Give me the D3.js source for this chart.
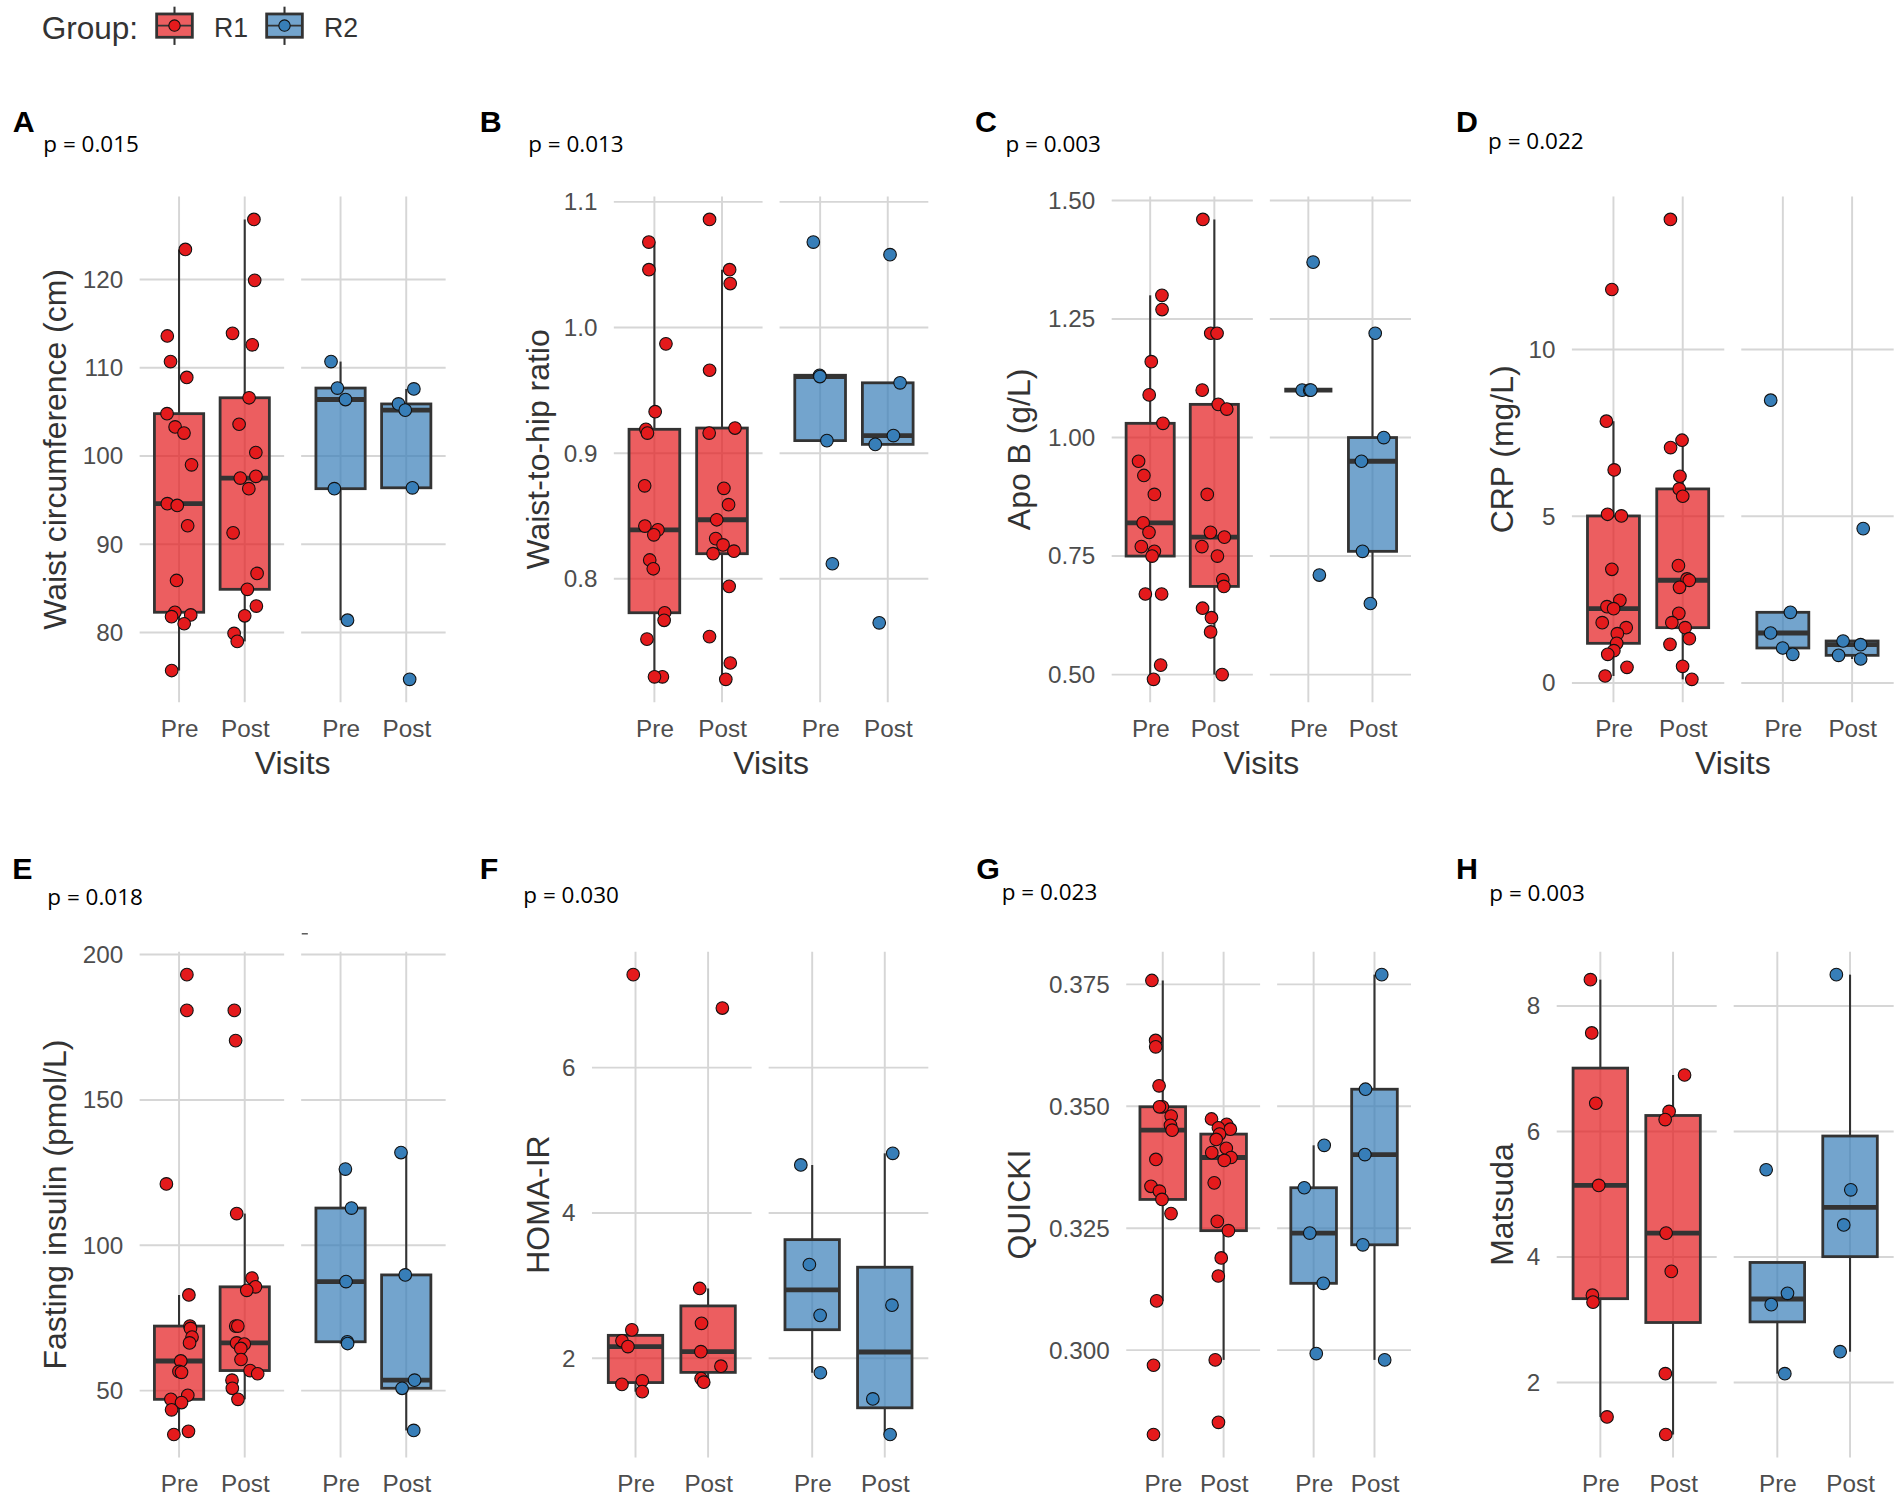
<!DOCTYPE html>
<html><head><meta charset="utf-8">
<script src="https://cdn.jsdelivr.net/npm/d3@7"></script>
<style>body{margin:0;background:#fff}</style>
</head><body><svg id="c"></svg>
<script>
// ---------------- DATA ----------------
const visits = ["Pre", "Post"];
const groups = ["R1", "R2"];
const panelLetters = ["A", "B", "C", "D", "E", "F", "G", "H"];
const pLabels = ["p = 0.015", "p = 0.013", "p = 0.003", "p = 0.022", "p = 0.018", "p = 0.030", "p = 0.023", "p = 0.003"];
const yTitles = ["Waist circumference (cm)", "Waist-to-hip ratio", "Apo B (g/L)", "CRP (mg/L)",
                 "Fasting insulin (pmol/L)", "HOMA-IR", "QUICKI", "Matsuda"];

// A: waist circumference
const waistR1Pre  = [123.4,113.6,110.7,108.9,104.8,103.3,102.6,99.0,94.6,94.4,92.1,85.9,82.3,82.0,81.8,81.0,75.7];
const waistR1Post = [126.8,119.9,113.9,112.6,106.6,103.6,100.4,97.7,97.5,96.3,91.3,86.7,84.9,83.0,81.9,79.9,79.0];
const waistR2Pre  = [110.7,107.7,106.4,96.3,81.4];
const waistR2Post = [107.6,105.9,105.2,96.4,74.7];
const waistTicks  = [80, 90, 100, 110, 120];
const waistTickLabels = ["80", "90", "100", "110", "120"];
// B: waist-to-hip ratio
const whrR1Pre  = [1.068,1.046,0.987,0.933,0.919,0.916,0.874,0.842,0.839,0.835,0.815,0.808,0.773,0.767,0.752,0.722,0.722];
const whrR1Post = [1.086,1.046,1.035,0.966,0.920,0.916,0.872,0.859,0.847,0.832,0.827,0.822,0.820,0.794,0.754,0.733,0.720];
const whrR2Pre  = [1.068,0.962,0.961,0.910,0.812];
const whrR2Post = [1.058,0.956,0.914,0.907,0.765];
const whrTicks  = [0.8, 0.9, 1.0, 1.1];
const whrTickLabels = ["0.8", "0.9", "1.0", "1.1"];
// C: Apo B
const apoR1Pre  = [1.30,1.27,1.16,1.09,1.03,0.95,0.92,0.88,0.82,0.80,0.77,0.76,0.75,0.67,0.67,0.52,0.49];
const apoR1Post = [1.46,1.22,1.22,1.10,1.07,1.06,0.88,0.80,0.79,0.77,0.75,0.70,0.686,0.64,0.62,0.59,0.50];
const apoR2Pre  = [1.37,1.10,1.10,1.10,0.71];
const apoR2Post = [1.22,1.00,0.95,0.76,0.65];
const apoTicks  = [0.5, 0.75, 1.0, 1.25, 1.5];
const apoTickLabels = ["0.50", "0.75", "1.00", "1.25", "1.50"];
// D: CRP
const crpR1Pre  = [11.8,7.85,6.39,5.06,5.01,3.41,2.48,2.29,2.23,1.81,1.66,1.48,1.19,0.97,0.86,0.47,0.21];
const crpR1Post = [13.9,7.28,7.06,6.20,5.82,5.60,3.52,3.12,3.08,2.87,2.09,1.81,1.66,1.33,1.16,0.50,0.11];
const crpR2Pre  = [8.48,2.12,1.50,1.05,0.86];
const crpR2Post = [4.63,1.26,1.15,0.83,0.72];
const crpTicks  = [0, 5, 10];
const crpTickLabels = ["0", "5", "10"];
// E: fasting insulin
const insR1Pre  = [193.1,180.8,121.1,82.9,72.2,71.4,68.4,66.4,60.2,56.6,56.3,48.4,47.0,45.9,43.4,36.0,34.9];
const insR1Post = [180.8,170.4,110.9,88.7,85.7,84.5,72.2,72.2,66.4,66.0,64.5,60.7,56.9,55.8,53.6,50.8,47.0];
const insR2Pre  = [126.2,112.8,87.5,66.8,66.2];
const insR2Post = [131.9,89.8,53.6,50.8,36.3];
const insTicks  = [50, 100, 150, 200];
const insTickLabels = ["50", "100", "150", "200"];
// F: HOMA-IR
const homaR1Pre  = [7.28,2.39,2.24,2.16,1.69,1.64,1.54];
const homaR1Post = [6.82,2.96,2.48,2.09,1.89,1.72,1.67];
const homaR2Pre  = [4.66,3.29,2.59,1.80];
const homaR2Post = [4.82,2.73,1.44,0.95];
const homaTicks  = [2, 4, 6];
const homaTickLabels = ["2", "4", "6"];
// G: QUICKI
const quickiR1Pre  = [0.3758,0.3635,0.3622,0.3542,0.3499,0.3499,0.3480,0.3461,0.3451,0.3391,0.3336,0.3326,0.3309,0.3280,0.3101,0.2969,0.2827];
const quickiR1Post = [0.3474,0.3463,0.3456,0.3453,0.3443,0.3432,0.3414,0.3405,0.3395,0.3389,0.3343,0.3264,0.3245,0.3189,0.3152,0.2980,0.2852];
const quickiR2Pre  = [0.3420,0.3333,0.3240,0.3137,0.2993];
const quickiR2Post = [0.3770,0.3535,0.3401,0.3216,0.2980];
const quickiTicks  = [0.300, 0.325, 0.350, 0.375];
const quickiTickLabels = ["0.300", "0.325", "0.350", "0.375"];
// H: Matsuda
const matsR1Pre  = [8.42,7.57,6.45,5.14,3.39,3.28,1.45];
const matsR1Post = [6.90,6.32,6.19,4.38,3.77,2.14,1.17];
const matsR2Pre  = [5.39,3.42,3.24,2.14];
const matsR2Post = [8.50,5.07,4.51,2.49];
const matsTicks  = [2, 4, 6, 8];
const matsTickLabels = ["2", "4", "6", "8"];

const panelData = [
  {series: [[waistR1Pre, waistR1Post], [waistR2Pre, waistR2Post]], ticks: waistTicks, tickLabels: waistTickLabels},
  {series: [[whrR1Pre, whrR1Post], [whrR2Pre, whrR2Post]], ticks: whrTicks, tickLabels: whrTickLabels},
  {series: [[apoR1Pre, apoR1Post], [apoR2Pre, apoR2Post]], ticks: apoTicks, tickLabels: apoTickLabels},
  {series: [[crpR1Pre, crpR1Post], [crpR2Pre, crpR2Post]], ticks: crpTicks, tickLabels: crpTickLabels},
  {series: [[insR1Pre, insR1Post], [insR2Pre, insR2Post]], ticks: insTicks, tickLabels: insTickLabels},
  {series: [[homaR1Pre, homaR1Post], [homaR2Pre, homaR2Post]], ticks: homaTicks, tickLabels: homaTickLabels},
  {series: [[quickiR1Pre, quickiR1Post], [quickiR2Pre, quickiR2Post]], ticks: quickiTicks, tickLabels: quickiTickLabels},
  {series: [[matsR1Pre, matsR1Post], [matsR2Pre, matsR2Post]], ticks: matsTicks, tickLabels: matsTickLabels}
];

// ---------------- LAYOUT / STYLE ----------------
const W = 1568, H = 1235.3;
const FONT = "'Liberation Sans', Arial, Helvetica, sans-serif";
const PFONT = "'Open Sans', 'Noto Sans', sans-serif";
const pointFill = {R1: "#E41A1C", R2: "#377EB8"};
const GRID = "#d6d6d6", DARK = "#333333";
const TICK_SIZE = 20, TITLE_SIZE = 26.3;
const rows = [
  {top: 161.8, bottom: 578.4, xTickBase: 607, letterBase: 108.4, visitsBase: 637.4},
  {top: 783.7, bottom: 1200.3, xTickBase: 1229, letterBase: 724, visitsBase: null}
];
const geom = [
  {left: 115,    right: 367,    row: 0, lx: 10.4, px: 35.7,   py: 124.9, tx: 54},
  {left: 505.5,  right: 764.5,  row: 0, lx: 395,  px: 435,    py: 124.9, tx: 452},
  {left: 915.5,  right: 1162,   row: 0, lx: 803,  px: 828,    py: 124.9, tx: 848.5},
  {left: 1294.5, right: 1559.5, row: 0, lx: 1199, px: 1225.5, py: 122.5, tx: 1246},
  {left: 115,    right: 367,    row: 1, lx: 10,   px: 39,     py: 745.5, tx: 54},
  {left: 487.5,  right: 764.5,  row: 1, lx: 395,  px: 431,    py: 743.5, tx: 452},
  {left: 927.5,  right: 1162,   row: 1, lx: 804,  px: 825,    py: 741,   tx: 848.5},
  {left: 1282,   right: 1559.5, row: 1, lx: 1199, px: 1226.5, py: 742,   tx: 1246}
];
const FACET_GAP = 14;

const svg = d3.select("#c").attr("width", 1904).attr("height", 1500)
  .attr("viewBox", `0 0 ${W} ${H}`);
svg.append("rect").attr("width", W).attr("height", H).attr("fill", "#fff");

const rng = d3.randomLcg(0.4242);
const jitter = d3.randomUniform.source(rng)(-0.2, 0.2);

function boxStats(arr) {
  const s = arr.slice().sort(d3.ascending);
  const q1 = d3.quantile(s, 0.25), med = d3.quantile(s, 0.5), q3 = d3.quantile(s, 0.75);
  const iqr = q3 - q1;
  const lo = d3.min(s.filter(v => v >= q1 - 1.5 * iqr));
  const hi = d3.max(s.filter(v => v <= q3 + 1.5 * iqr));
  return {q1, med, q3, lo, hi};
}

// ---------------- LEGEND ----------------
const leg = svg.append("g");
leg.append("text").attr("x", 34.3).attr("y", 32.4).attr("font-family", FONT)
  .attr("font-size", 26).attr("fill", DARK).text("Group:");
const legX0 = [129, 219.6], legW = 29.4, legY0 = 11.5, legY1 = 30.7;
groups.forEach((g, i) => {
  const x0 = legX0[i], cx = x0 + legW / 2, cy = (legY0 + legY1) / 2;
  leg.append("line").attr("x1", cx).attr("x2", cx).attr("y1", 5.5).attr("y2", legY0)
    .attr("stroke", DARK).attr("stroke-width", 1.7);
  leg.append("line").attr("x1", cx).attr("x2", cx).attr("y1", legY1).attr("y2", 37)
    .attr("stroke", DARK).attr("stroke-width", 1.7);
  leg.append("rect").attr("x", x0).attr("y", legY0).attr("width", legW).attr("height", legY1 - legY0)
    .attr("fill", pointFill[g]).attr("fill-opacity", 0.7).attr("stroke", DARK).attr("stroke-width", 2.3);
  leg.append("line").attr("x1", x0).attr("x2", x0 + legW).attr("y1", cy).attr("y2", cy)
    .attr("stroke", DARK).attr("stroke-width", 1.5);
  leg.append("circle").attr("cx", cx).attr("cy", cy).attr("r", 4.7)
    .attr("fill", pointFill[g]).attr("stroke", "#111").attr("stroke-width", 0.9);
  leg.append("text").attr("x", x0 + 47.2).attr("y", 30.2).attr("font-family", FONT)
    .attr("font-size", 22).attr("fill", DARK).text(g);
});

// ---------------- PANELS ----------------
panelData.forEach((pd, pi) => {
  const gm = geom[pi], row = rows[gm.row];
  const g = svg.append("g");
  const all = pd.series.flat(2);
  const mn = d3.min(all), mx = d3.max(all), pad = (mx - mn) * 0.05;
  const y = d3.scaleLinear().domain([mn - pad, mx + pad]).range([row.bottom, row.top]);
  const fw = (gm.right - gm.left - FACET_GAP) / 2;

  // letter and p-value
  g.append("text").attr("x", gm.lx).attr("y", row.letterBase).attr("font-family", FONT)
    .attr("font-weight", "bold").attr("font-size", 25).attr("fill", "#000").text(panelLetters[pi]);
  g.append("text").attr("x", gm.px).attr("y", gm.py).attr("font-family", PFONT)
    .attr("font-size", 18.5).attr("fill", "#000").text(pLabels[pi]);

  // y title
  const cyMid = (row.top + row.bottom) / 2;
  g.append("text").attr("transform", `translate(${gm.tx},${cyMid}) rotate(-90)`)
    .attr("text-anchor", "middle").attr("font-family", FONT).attr("font-size", TITLE_SIZE)
    .attr("fill", DARK).text(yTitles[pi]);

  // y axis labels
  const yAxis = d3.axisLeft(y).tickValues(pd.ticks).tickFormat((d, i) => pd.tickLabels[i])
    .tickSize(0).tickPadding(13.5);
  const ya = g.append("g").attr("transform", `translate(${gm.left},0)`).call(yAxis);
  ya.select(".domain").remove();
  ya.selectAll("text").attr("font-family", FONT).attr("font-size", TICK_SIZE).attr("fill", "#4d4d4d");

  groups.forEach((grp, fi) => {
    const fl = gm.left + fi * (fw + FACET_GAP), fr = fl + fw;
    const x = d3.scalePoint().domain(visits).range([fl, fr]).padding(0.6);
    const step = x.step();
    const fg = g.append("g");
    // grid
    fg.selectAll(".hg").data(pd.ticks).join("line")
      .attr("x1", fl).attr("x2", fr).attr("y1", d => y(d)).attr("y2", d => y(d))
      .attr("stroke", GRID).attr("stroke-width", 1.6);
    fg.selectAll(".vg").data(visits).join("line")
      .attr("x1", d => x(d)).attr("x2", d => x(d)).attr("y1", row.top).attr("y2", row.bottom)
      .attr("stroke", GRID).attr("stroke-width", 1.6);
    // x axis labels
    const xa = fg.append("g").attr("transform", `translate(0,${row.xTickBase})`)
      .call(d3.axisBottom(x).tickSize(0));
    xa.select(".domain").remove();
    xa.selectAll("text").attr("y", 0).attr("dy", 0).attr("font-family", FONT)
      .attr("font-size", TICK_SIZE).attr("fill", "#4d4d4d");

    // boxes
    visits.forEach((v, vi) => {
      const vals = pd.series[fi][vi];
      const st = boxStats(vals);
      const cx = x(v), bw = 0.75 * step;
      if (st.hi > st.q3) fg.append("line").attr("x1", cx).attr("x2", cx)
        .attr("y1", y(st.q3)).attr("y2", y(st.hi)).attr("stroke", DARK).attr("stroke-width", 1.7);
      if (st.lo < st.q1) fg.append("line").attr("x1", cx).attr("x2", cx)
        .attr("y1", y(st.q1)).attr("y2", y(st.lo)).attr("stroke", DARK).attr("stroke-width", 1.7);
      fg.append("rect").attr("x", cx - bw / 2).attr("width", bw)
        .attr("y", y(st.q3)).attr("height", Math.max(0, y(st.q1) - y(st.q3)))
        .attr("fill", pointFill[grp]).attr("fill-opacity", 0.7)
        .attr("stroke", DARK).attr("stroke-width", 2.3);
      fg.append("line").attr("x1", cx - bw / 2).attr("x2", cx + bw / 2)
        .attr("y1", y(st.med)).attr("y2", y(st.med)).attr("stroke", DARK).attr("stroke-width", 4);
    });
    // jittered points
    visits.forEach((v, vi) => {
      const vals = pd.series[fi][vi];
      fg.selectAll(null).data(vals).join("circle")
        .attr("cx", () => x(v) + jitter() * step)
        .attr("cy", d => y(d)).attr("r", 5.2)
        .attr("fill", pointFill[grp]).attr("stroke", "#111").attr("stroke-width", 0.9);
    });
  });

  if (row.visitsBase !== null) {
    g.append("text").attr("x", (gm.left + gm.right) / 2).attr("y", row.visitsBase)
      .attr("text-anchor", "middle").attr("font-family", FONT).attr("font-size", TITLE_SIZE)
      .attr("fill", DARK).text("Visits");
  }
});

// small stray dash seen in panel E of the original
svg.append("line").attr("x1", 248.5).attr("x2", 253.5).attr("y1", 769).attr("y2", 769)
  .attr("stroke", "#555").attr("stroke-width", 1.2);
</script>
</body></html>
